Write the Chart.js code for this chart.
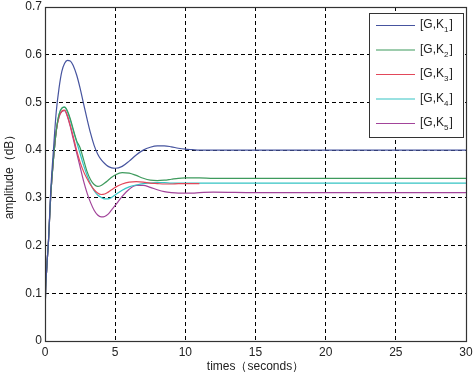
<!DOCTYPE html>
<html>
<head>
<meta charset="utf-8">
<script src="https://cdn.jsdelivr.net/npm/chart.js@4.4.0/dist/chart.umd.min.js"></script>
<style>
html, body { margin: 0; padding: 0; background: #fff; }
</style>
</head>
<body>
<canvas id="stepChart" width="474" height="374"></canvas>
<script>
// time samples (seconds) and step responses
var times = [0, 0.02, 0.12, 0.25, 0.4, 0.6, 0.8, 1.0, 1.2, 1.4, 1.6, 1.8, 2.0, 2.25, 2.5, 2.75, 3.0, 3.25, 3.5, 3.75,
  4.0, 4.25, 4.5, 4.75, 5.0, 5.5, 6.0, 6.5, 7.0, 7.5, 8.0, 8.5, 9.0, 9.5, 10, 10.5, 11, 12, 15, 20, 25, 30];

var k1 = [0, 0.07, 0.15, 0.21, 0.31, 0.40, 0.48, 0.53, 0.565, 0.582, 0.588, 0.587, 0.578, 0.558, 0.53, 0.497, 0.465, 0.435, 0.41, 0.392,
  0.38, 0.372, 0.366, 0.363, 0.362, 0.366, 0.377, 0.39, 0.40, 0.406, 0.409, 0.409, 0.407, 0.404, 0.402, 0.401, 0.40, 0.40, 0.40, 0.40, 0.40, 0.40];

var k2 = [0, 0.07, 0.15, 0.21, 0.30, 0.38, 0.44, 0.475, 0.488, 0.49, 0.482, 0.466, 0.445, 0.42, 0.405, 0.38, 0.355, 0.338, 0.328, 0.324,
  0.326, 0.331, 0.337, 0.343, 0.348, 0.353, 0.352, 0.347, 0.341, 0.337, 0.336, 0.337, 0.339, 0.341, 0.342, 0.342, 0.342, 0.341, 0.341, 0.341, 0.341, 0.341];

var k3 = [0, 0.07, 0.15, 0.21, 0.30, 0.38, 0.44, 0.47, 0.482, 0.484, 0.472, 0.452, 0.43, 0.40, 0.375, 0.355, 0.34, 0.327, 0.317, 0.31,
  0.307, 0.308, 0.312, 0.317, 0.322, 0.329, 0.333, 0.334, 0.333, 0.331, 0.33, 0.329, 0.329, 0.33, 0.33, 0.33, 0.33, null, null, null, null, null];

var k4 = [0, 0.07, 0.15, 0.21, 0.30, 0.38, 0.44, 0.475, 0.488, 0.49, 0.48, 0.463, 0.442, 0.418, 0.393, 0.368, 0.347, 0.329, 0.315, 0.306,
  0.301, 0.298, 0.298, 0.301, 0.306, 0.316, 0.323, 0.327, 0.33, 0.331, 0.332, 0.332, 0.331, 0.331, 0.331, 0.331, 0.331, 0.331, 0.331, 0.331, 0.331, 0.331];

var k5 = [0, 0.07, 0.15, 0.21, 0.30, 0.38, 0.44, 0.47, 0.481, 0.483, 0.47, 0.45, 0.425, 0.395, 0.365, 0.335, 0.31, 0.29, 0.274, 0.264,
  0.26, 0.261, 0.266, 0.275, 0.284, 0.303, 0.318, 0.326, 0.326, 0.322, 0.317, 0.313, 0.311, 0.31, 0.31, 0.31, 0.311, 0.312, 0.311, 0.311, 0.311, 0.311];

var seriesSubs = ["1", "2", "3", "4", "5"];
var seriesColors = ["#46549f", "#3d9a5c", "#e2485a", "#35c4c4", "#a2449a"];
var seriesValues = [k1, k2, k3, k4, k5];

var FONT = "'Liberation Sans', Arial, sans-serif";

function toPoints(vals) {
  var pts = [];
  for (var i = 0; i < times.length; i++) {
    pts.push({ x: times[i], y: vals[i] });
  }
  return pts;
}

var datasets = [];
for (var s = 0; s < seriesValues.length; s++) {
  datasets.push({
    label: "[G,K" + seriesSubs[s] + "]",
    data: toPoints(seriesValues[s]),
    borderColor: seriesColors[s],
    backgroundColor: seriesColors[s],
    borderWidth: 1.2,
    pointRadius: 0,
    fill: false,
    spanGaps: false,
    cubicInterpolationMode: "monotone"
  });
}

// solid box round the axes, like matlab
var axesFrame = {
  id: "axesFrame",
  afterDatasetsDraw: function(chart) {
    var ctx = chart.ctx, a = chart.chartArea;
    ctx.save();
    ctx.strokeStyle = "#333";
    ctx.lineWidth = 1.2;
    ctx.strokeRect(a.left + 0.5, a.top + 0.5, a.right - a.left, a.bottom - a.top);
    ctx.restore();
  }
};

// legend box in the upper right corner, with subscripts
var legendBox = {
  id: "legendBox",
  afterDraw: function(chart) {
    var ctx = chart.ctx, a = chart.chartArea;
    var w = 94, h = 124;
    var x0 = a.right - 3 - w, y0 = a.top + 6;
    ctx.save();
    ctx.fillStyle = "#fff";
    ctx.fillRect(x0, y0, w, h);
    ctx.strokeStyle = "#333";
    ctx.lineWidth = 1;
    ctx.strokeRect(x0 + 0.5, y0 + 0.5, w, h);
    chart.data.datasets.forEach(function(ds, i) {
      var y = y0 + 12 + i * 24.5;
      ctx.strokeStyle = ds.borderColor;
      ctx.lineWidth = 1.2;
      ctx.beginPath();
      ctx.moveTo(x0 + 7, y + 0.5);
      ctx.lineTo(x0 + 46, y + 0.5);
      ctx.stroke();
      ctx.fillStyle = "#222";
      ctx.textBaseline = "middle";
      ctx.font = "12px " + FONT;
      var tx = x0 + 51;
      ctx.fillText("[G,K", tx, y);
      tx += ctx.measureText("[G,K").width;
      ctx.font = "8px " + FONT;
      ctx.fillText(seriesSubs[i], tx, y + 5);
      tx += ctx.measureText(seriesSubs[i]).width + 1;
      ctx.font = "12px " + FONT;
      ctx.fillText("]", tx, y);
    });
    ctx.restore();
  }
};

var gridStyle = { color: "#000", lineWidth: 1, drawTicks: false };

new Chart(document.getElementById("stepChart"), {
  type: "line",
  data: { datasets: datasets },
  options: {
    responsive: false,
    animation: false,
    layout: { padding: { top: 7, right: 8, left: 0, bottom: 0 } },
    plugins: { legend: { display: false }, tooltip: { enabled: false } },
    scales: {
      x: {
        type: "linear",
        min: 0, max: 30,
        ticks: { stepSize: 5, padding: 4, color: "#222", font: { family: FONT, size: 12 }, maxRotation: 0 },
        grid: gridStyle,
        border: { display: false, dash: [4, 3] },
        title: { display: true, text: "times（seconds）", color: "#222", font: { family: FONT, size: 12 }, padding: { top: 1, bottom: 0 } },
        afterFit: function(scale) {
          scale.height = 33;
          scale.paddingLeft = 0;
          scale.paddingRight = 0;
        }
      },
      y: {
        min: 0, max: 0.7,
        ticks: {
          stepSize: 0.1, padding: 3, color: "#222", font: { family: FONT, size: 12 },
          callback: function(v) { return +v.toFixed(1); }
        },
        grid: gridStyle,
        border: { display: false, dash: [4, 3] },
        title: { display: true, text: "amplitude（dB）", color: "#222", font: { family: FONT, size: 12 }, padding: { top: 2, bottom: 2 } },
        afterFit: function(scale) {
          scale.width = 45;
          scale.paddingTop = 0;
          scale.paddingBottom = 0;
        }
      }
    }
  },
  plugins: [axesFrame, legendBox]
});
</script>
</body>
</html>
